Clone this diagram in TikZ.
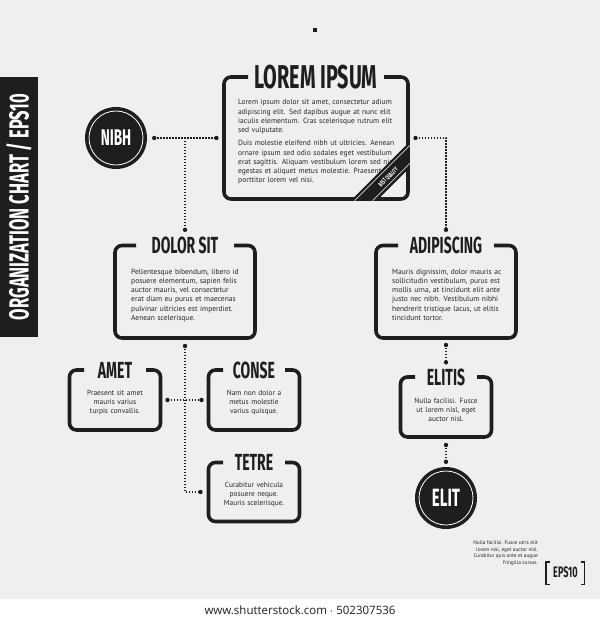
\documentclass[tikz,border=0pt]{standalone}
\usepackage{fontspec}
\setmainfont{PT Sans}
\newfontfamily\headfont[FakeStretch=0.6]{Fira Sans}
\newfontfamily\footfont{Open Sans}
\newcommand\hf{\headfont\bfseries}
\definecolor{ink}{HTML}{1E1E1E}
\definecolor{bgc}{HTML}{EFEFEF}
\definecolor{txt}{HTML}{262626}
\tikzset{
  frame/.style={draw=none, inner sep=0pt, outer sep=0pt},
  edge/.style={line width=3.6pt, draw=ink, rounded corners=7pt},
  ttl/.style={font=\hf\fontsize{23.3}{23.3}\selectfont, text=ink, inner sep=0pt},
  bigttl/.style={font=\hf\fontsize{33}{33}\selectfont, text=ink, inner sep=0pt},
  body/.style={font=\fontsize{7.5}{9.2}\selectfont, text=txt, inner sep=0pt, align=left, text width=#1},
  cbody/.style={font=\fontsize{7.4}{9}\selectfont, text=txt, inner sep=0pt, align=center, text width=#1},
  link/.style={draw=ink, line width=1.4pt, dash pattern=on 1.4pt off 1.6pt},
  disc/.style={circle, fill=ink, minimum size=62pt, inner sep=0pt, text=white},
}
\newcommand\gframe[2]{\draw[edge] ([xshift=-#2]#1.north) -- (#1.north west) -- (#1.south west) -- (#1.south east) -- (#1.north east) -- ([xshift=#2]#1.north);}
\newcommand\edot[1]{\fill[ink] (#1) circle (2.2pt);}
\begin{document}
\begin{tikzpicture}[x=1pt,y=-1pt]
\fill[bgc] (0,0) rectangle (600,599);
\fill[white] (0,599) rectangle (600,620);
\useasboundingbox (0,0) rectangle (600,620);

% side bar
\node[frame, fill=ink, minimum width=38pt, minimum height=260pt] (bar) at (19,207) {};
\node[rotate=90, text=white, inner sep=0pt, font=\hf\fontsize{27.6}{27.6}\selectfont] (bartxt) at (bar.center) {ORGANIZATION CHART / EPS10};

% top dot
\node[frame, fill=ink, minimum size=3.5pt] (topdot) at (315,30) {};

% boxes
\node[frame, minimum width=184pt, minimum height=122pt] (main) at (316,138) {};
\node[frame, minimum width=140pt, minimum height=92.5pt] (dolor) at (185,291.75) {};
\node[frame, minimum width=140pt, minimum height=92.5pt] (adi) at (446,291.75) {};
\node[frame, minimum width=91pt, minimum height=60pt] (amet) at (115,400) {};
\node[frame, minimum width=91pt, minimum height=60pt] (conse) at (254,400) {};
\node[frame, minimum width=91pt, minimum height=59pt] (tetre) at (254,492) {};
\node[frame, minimum width=91pt, minimum height=60pt] (elitis) at (446,407) {};

\gframe{main}{68pt}
\gframe{dolor}{49pt}
\gframe{adi}{48pt}
\gframe{amet}{31pt}
\gframe{conse}{31pt}
\gframe{tetre}{31pt}
\gframe{elitis}{31pt}

% titles
\node[bigttl] (mainT) at (main.north) {LOREM IPSUM};
\node[ttl] (dolT) at (dolor.north) {DOLOR SIT};
\node[ttl] (adiT) at (adi.north) {ADIPISCING};
\node[ttl] (ametT) at (amet.north) {AMET};
\node[ttl] (conT) at (conse.north) {CONSE};
\node[ttl] (tetT) at (tetre.north) {TETRE};
\node[ttl] (eliT) at (elitis.north) {ELITIS};

% body texts
\node[body=158pt, anchor=base west] (mainP1) at (238,105) {Lorem ipsum dolor sit amet, consectetur adium\\adipiscing elit. Sed dapibus augue at nunc elit\\iaculis elementum. Cras scelerisque rutrum elit\\sed vulputate.};
\node[body=158pt, anchor=base west] (mainP2) at (238,146) {Duis molestie eleifend nibh ut ultricies. Aenean\\ornare ipsum sed odio sodales eget vestibulum\\erat sagittis. Aliquam vestibulum lorem sed nisl\\egestas et aliquet metus molestie. Praesent\\porttitor lorem vel nisi.};
\node[body=118pt, anchor=base west] (dolP) at (131,274.3) {Pellentesque bibendum, libero id\\posuere elementum, sapien felis\\auctor mauris, vel consectetur\\erat diam eu purus et maecenas\\pulvinar ultricies est imperdiet.\\Aenean scelerisque.};
\node[body=118pt, anchor=base west] (adiP) at (392,274.3) {Mauris dignissim, dolor mauris ac\\sollicitudin vestibulum, purus est\\mollis urna, at tincidunt elit ante\\justo nec nibh. Vestibulum nibhi\\hendrerit tristique lacus, ut elitis\\tincidunt tortor.};
\node[cbody=80pt, anchor=base] (ametP) at (115,395.3) {Praesent sit amet\\mauris varius\\turpis convallis.};
\node[cbody=80pt, anchor=base] (conP) at (254,395.3) {Nam non dolor a\\metus molestie\\varius quisque.};
\node[cbody=80pt, anchor=base] (tetP) at (254,487) {Curabitur vehicula\\posuere neque.\\Mauris scelerisque.};
\node[cbody=80pt, anchor=base] (eliP) at (446,403.3) {Nulla facilisi. Fusce\\ut lorem nisl, eget\\auctor nisl.};

% ribbon
\fill[ink] (350.5,200.8) -- (409.8,141.5) -- (409.8,167.5) -- (376.5,200.8) -- cycle;
\draw[white, line width=0.6pt] (354.5,200.8) -- (409.8,145.5);
\draw[white, line width=0.6pt] (372.5,200.8) -- (409.8,163.5);
\node[rotate=45, text=white, inner sep=0pt, font=\hf\fontsize{6.5}{6.5}\selectfont] (ribbon) at (388.5,177.5) {BEST QUALITY};

% circles
\node[disc, font=\hf\fontsize{22.7}{22.7}\selectfont] (nibh) at (116,138) {NIBH};
\draw[white, line width=0.8pt] (nibh.center) circle (27pt);
\node[disc, font=\hf\fontsize{25}{25}\selectfont] (elit) at (446,498) {ELIT};
\draw[white, line width=0.8pt] (elit.center) circle (27pt);

% connectors
\coordinate (n1) at ([xshift=7pt]nibh.east);
\coordinate (m1) at ([xshift=-7.5pt]main.west);
\coordinate (d1) at ([yshift=7pt]dolT.north);
\coordinate (m2) at ([xshift=7.5pt]main.east);
\coordinate (a1) at ([yshift=7pt]adiT.north);
\coordinate (d2) at ([yshift=-8pt]dolor.south);
\coordinate (t1) at ([xshift=-8pt]tetre.west);
\coordinate (a2) at ([xshift=7pt]amet.east);
\coordinate (c1) at ([xshift=-7pt]conse.west);
\coordinate (a3) at ([yshift=-7pt]adi.south);
\coordinate (e1) at ([yshift=6pt]eliT.north);
\coordinate (e2) at ([yshift=-8pt]elitis.south);
\coordinate (e3) at ([yshift=5pt]elit.north);

\draw[link] (n1) -- (m1);
\draw[link] (n1 -| d1) -- (d1);
\draw[link] (m2) -| (a1);
\draw[link] (d2) |- (t1);
\draw[link] (a2) -- (c1);
\draw[link] (a3) -- (e1);
\draw[link] (e2) -- (e3);
\foreach \p in {n1,m1,d1,m2,a1,d2,t1,a2,c1,a3,e1,e2,e3} {\edot{\p}}

% footer right
\node[anchor=base east, align=right, inner sep=0pt, text=txt, font=\fontsize{5.3}{6.65}\selectfont] (note) at (538,564.5) {Nulla facilisi. Fusce utris elit\\lorem nisl, eget auctor nisl.\\Curabitur quis ante et augue\\fringilla cursus.};
\node[text=ink, inner sep=0pt, font=\hf\fontsize{15.2}{15.2}\selectfont] (eps) at (565.5,572.7) {EPS10};
\draw[ink, line width=1.6pt] ([xshift=4pt]546,561.7) -- (546,561.7) -- (546,584.3) -- ([xshift=4pt]546,584.3);
\draw[ink, line width=1.6pt] ([xshift=-4pt]584.5,561.7) -- (584.5,561.7) -- (584.5,584.3) -- ([xshift=-4pt]584.5,584.3);

% footer
\node[text=ink, inner sep=0pt, font=\footfont\fontsize{11.5}{11.5}\selectfont] (foot) at (300,610) {www.shutterstock.com $\cdot$ 502307536};
\end{tikzpicture}
\end{document}
